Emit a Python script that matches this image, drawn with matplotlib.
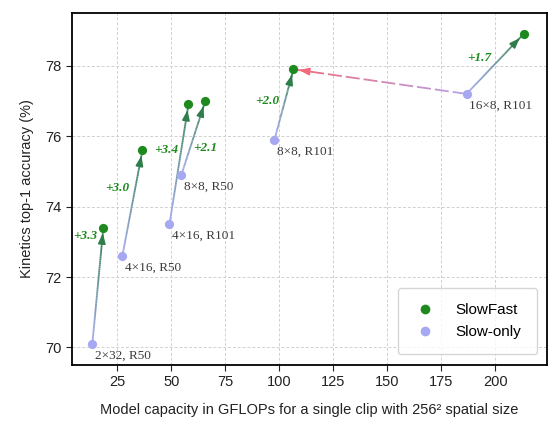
import numpy as np
import matplotlib
matplotlib.use("Agg")
import matplotlib.pyplot as plt
from matplotlib.collections import LineCollection
from matplotlib.colors import to_rgb
from matplotlib.lines import Line2D

# Data
configs = ["2\u00d732, R50", "4\u00d716, R50", "4\u00d716, R101",
           "8\u00d78, R50", "8\u00d78, R101", "16\u00d78, R101"]
slow_gflops = [13.4, 27.3, 49.1, 54.6, 97.7, 186.6]
slow_acc = [70.1, 72.6, 73.5, 74.9, 75.9, 77.2]
fast_gflops = [18.5, 36.6, 57.9, 65.7, 106.5, 213.0]
fast_acc = [73.4, 75.6, 76.9, 77.0, 77.9, 78.9]

GREEN = "#1e8a1e"
BLUE = "#a6a9f2"
TEXT = "#3a3a3a"
SERIF = "Liberation Serif"

plt.rcParams["font.family"] = "Liberation Sans"

fig = plt.figure(figsize=(5.54, 4.30), dpi=100)
ax = fig.add_axes([0.130, 0.151, 0.858, 0.819])
ax.set_xlim(4, 224)
ax.set_ylim(69.5, 79.5)


def blend(c0, c1, t):
    a, b = np.array(to_rgb(c0)), np.array(to_rgb(c1))
    return a[None, :] * (1 - t[:, None]) + b[None, :] * t[:, None]


def gradient_line(ax, p0, p1, c0, c1, n=60, **kw):
    t = np.linspace(0, 1, n + 1)
    xs = p0[0] + (p1[0] - p0[0]) * t
    ys = p0[1] + (p1[1] - p0[1]) * t
    segs = np.stack([np.column_stack([xs[:-1], ys[:-1]]),
                     np.column_stack([xs[1:], ys[1:]])], axis=1)
    cols = blend(c0, c1, (t[:-1] + t[1:]) / 2)
    ax.add_collection(LineCollection(segs, colors=cols, **kw))


def gradient_dashes(ax, p0, p1, c0, c1, dash=14, gap=4, **kw):
    # dash/gap lengths in pixels
    d0 = ax.transData.transform(p0)
    d1 = ax.transData.transform(p1)
    length = np.hypot(*(d1 - d0))
    starts = np.arange(0, length, dash + gap) / length
    ends = np.minimum(starts + dash / length, 1.0)
    segs = []
    for a, b in zip(starts, ends):
        segs.append([(p0[0] + (p1[0] - p0[0]) * a, p0[1] + (p1[1] - p0[1]) * a),
                     (p0[0] + (p1[0] - p0[0]) * b, p0[1] + (p1[1] - p0[1]) * b)])
    cols = blend(c0, c1, (starts + ends) / 2)
    ax.add_collection(LineCollection(segs, colors=cols, **kw))


def arrow_head(ax, p0, p1, color, frac=0.9):
    q = (p0[0] + frac * (p1[0] - p0[0]), p0[1] + frac * (p1[1] - p0[1]))
    ax.annotate("", xy=p1, xytext=q,
                arrowprops=dict(arrowstyle="-|>,head_length=0.6,head_width=0.22",
                                color=color, lw=1.2, shrinkA=0, shrinkB=4),
                zorder=3)


# Slow-only -> SlowFast arrows
gain_offsets = [(-13, -6), (-18, -27), (-16, -33), (0, -34), (-19, -23), (-32, -17)]
for i in range(len(configs)):
    p0 = (slow_gflops[i], slow_acc[i])
    p1 = (fast_gflops[i], fast_acc[i])
    gradient_line(ax, p0, p1, BLUE, "#2e7d4a", lw=1.3, zorder=2)
    arrow_head(ax, p0, p1, "#2e7d4a")
    gain = fast_acc[i] - slow_acc[i]
    ax.annotate("+{0:.1f}".format(gain), xy=p1, xytext=gain_offsets[i],
                textcoords="offset points", ha="center", va="center",
                color=GREEN, fontsize=9.5, fontweight="bold", fontstyle="italic",
                family=SERIF, zorder=4)

# Dashed arrow: 16x8 R101 slow-only -> 8x8 R101 SlowFast
p0 = (slow_gflops[5], slow_acc[5])
p1 = (fast_gflops[4], fast_acc[4])
gradient_dashes(ax, p0, p1, "#b6a3e8", "#f06a7a", lw=1.3, zorder=2)
arrow_head(ax, p0, p1, "#f06a7a", frac=0.94)

ax.scatter(fast_gflops, fast_acc, s=44, color=GREEN, zorder=5, linewidths=0)
ax.scatter(slow_gflops, slow_acc, s=44, color=BLUE, zorder=5, linewidths=0)

for i, name in enumerate(configs):
    ax.annotate(name, xy=(slow_gflops[i], slow_acc[i]), xytext=(2, -4),
                textcoords="offset points", ha="left", va="top",
                color=TEXT, fontsize=9.5, family=SERIF, zorder=4)

ax.set_xticks([25, 50, 75, 100, 125, 150, 175, 200])
ax.set_yticks([70, 72, 74, 76, 78])
ax.tick_params(labelsize=10.5, colors="#222222", length=4)
ax.grid(True, linestyle=(0, (3, 2)), color="#d0d0d0", lw=0.7)
ax.set_axisbelow(True)
for s in ax.spines.values():
    s.set_linewidth(1.3)
    s.set_color("black")

ax.set_xlabel("Model capacity in GFLOPs for a single clip with 256\u00b2 spatial size",
              fontsize=10.5, labelpad=10, color="#222222")
ax.set_ylabel("Kinetics top-1 accuracy (%)", fontsize=10.5, labelpad=8,
              color="#222222")

handles = [Line2D([], [], marker="o", ls="none", color=GREEN, markersize=7,
                  markeredgewidth=0, label="SlowFast"),
           Line2D([], [], marker="o", ls="none", color=BLUE, markersize=7,
                  markeredgewidth=0, label="Slow-only")]
leg = ax.legend(handles=handles, loc="lower right", fontsize=11,
                frameon=True, fancybox=True, borderpad=1.0, handlelength=1.6,
                handletextpad=1.2, borderaxespad=0.7, labelspacing=0.5)
leg.get_frame().set_edgecolor("#cccccc")

fig.savefig("out.png", dpi=100)
